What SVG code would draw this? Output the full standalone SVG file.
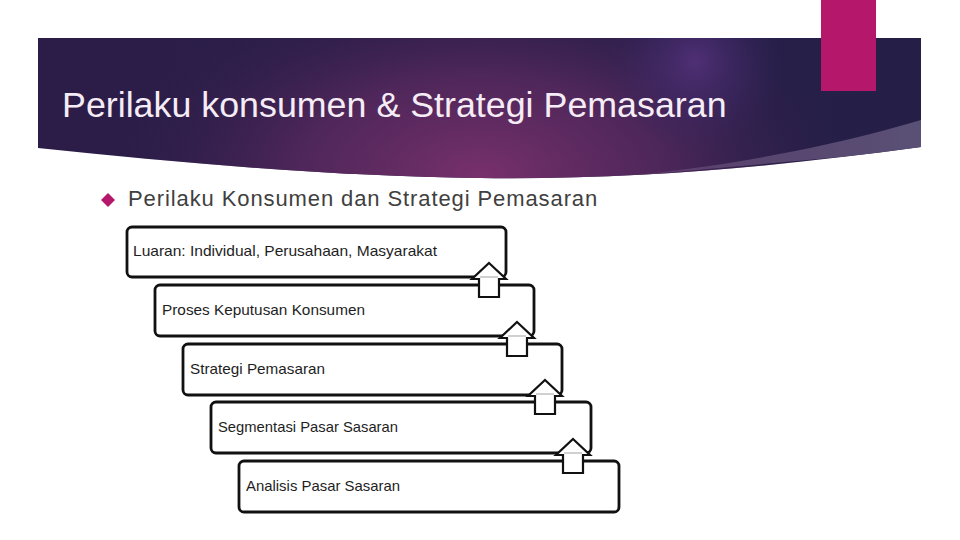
<svg xmlns="http://www.w3.org/2000/svg" width="960" height="540" viewBox="0 0 960 540">
<defs>
<linearGradient id="base" x1="0" y1="0" x2="1" y2="0">
<stop offset="0" stop-color="#2c1d48"/>
<stop offset="1" stop-color="#251f48"/>
</linearGradient>
<radialGradient id="glow1" cx="480" cy="175" r="360" gradientUnits="userSpaceOnUse" gradientTransform="translate(480 175) scale(1 0.55) translate(-480 -175)">
<stop offset="0" stop-color="#78306c" stop-opacity="1"/>
<stop offset="0.5" stop-color="#5c2a60" stop-opacity="0.75"/>
<stop offset="1" stop-color="#3a2050" stop-opacity="0"/>
</radialGradient>
<radialGradient id="glow2" cx="695" cy="62" r="90" gradientUnits="userSpaceOnUse">
<stop offset="0" stop-color="#4f2f75" stop-opacity="1"/>
<stop offset="1" stop-color="#3a2660" stop-opacity="0"/>
</radialGradient>
<linearGradient id="band" x1="921" y1="0" x2="560" y2="0" gradientUnits="userSpaceOnUse">
<stop offset="0" stop-color="#5a5075"/>
<stop offset="1" stop-color="#6a4a78" stop-opacity="0.6"/>
</linearGradient>
<clipPath id="bannerClip">
<path d="M38,38 H921 V147 C 780,166 640,180 480,178 C 330,176 180,163 38,148 Z"/>
</clipPath>
<style>
.box{fill:#ffffff;stroke:#111111;stroke-width:2.8}
.lbl{font-family:"Liberation Sans",Arial,sans-serif;font-size:15px;fill:#1e1e1e}
.arr{fill:#ffffff;stroke:#111111;stroke-width:2.2;stroke-linejoin:miter}
.arrline{stroke:#d0d0d0;stroke-width:2}
</style>
</defs>
<rect width="960" height="540" fill="#ffffff"/>
<g id="banner">
<g clip-path="url(#bannerClip)">
<rect x="38" y="38" width="883" height="145" fill="url(#base)"/>
<rect x="38" y="38" width="883" height="145" fill="url(#glow1)"/>
<rect x="38" y="38" width="883" height="145" fill="url(#glow2)"/>
<path d="M921,120 V150 L 560,182 C 700,172 820,150 921,120 Z" fill="url(#band)"/>
</g>
<rect x="821" y="0" width="55" height="91" fill="#b5176a"/>
<text x="62" y="117" font-family="'Liberation Sans',Arial,sans-serif" font-size="35.8" fill="#f6ecf6">Perilaku konsumen &amp; Strategi Pemasaran</text>
</g>
<g id="bullet">
<polygon points="108,193 115,200 108,207 101,200" fill="#b5176a"/>
<text x="128" y="206" font-family="'Liberation Sans',Arial,sans-serif" font-size="22" letter-spacing="0.9" fill="#404040">Perilaku Konsumen dan Strategi Pemasaran</text>
</g>
<g id="node1">
<rect class="box" x="127" y="227" width="379" height="50" rx="5"/>
<text class="lbl" x="133" y="256" textLength="304" lengthAdjust="spacingAndGlyphs">Luaran: Individual, Perusahaan, Masyarakat</text>
</g>
<g id="node2">
<rect class="box" x="155" y="285" width="379" height="51" rx="5"/>
<text class="lbl" x="162" y="315" textLength="203" lengthAdjust="spacingAndGlyphs">Proses Keputusan Konsumen</text>
</g>
<g id="node3">
<rect class="box" x="183" y="344" width="379" height="51" rx="5"/>
<text class="lbl" x="190" y="374" textLength="135" lengthAdjust="spacingAndGlyphs">Strategi Pemasaran</text>
</g>
<g id="node4">
<rect class="box" x="211" y="402" width="380" height="51" rx="5"/>
<text class="lbl" x="218" y="432" textLength="180" lengthAdjust="spacingAndGlyphs">Segmentasi Pasar Sasaran</text>
</g>
<g id="node5">
<rect class="box" x="239" y="461" width="380" height="51" rx="5"/>
<text class="lbl" x="246" y="491" textLength="154" lengthAdjust="spacingAndGlyphs">Analisis Pasar Sasaran</text>
</g>
<g id="connectors">
<g transform="translate(489 263)">
<path class="arr" d="M0,0 L17,16 H10 V34 H-10 V16 H-17 Z"/>
<line class="arrline" x1="-9" y1="14" x2="9" y2="14"/>
</g>
<g transform="translate(517 322)">
<path class="arr" d="M0,0 L17,16 H10 V34 H-10 V16 H-17 Z"/>
<line class="arrline" x1="-9" y1="14" x2="9" y2="14"/>
</g>
<g transform="translate(545 380)">
<path class="arr" d="M0,0 L17,16 H10 V34 H-10 V16 H-17 Z"/>
<line class="arrline" x1="-9" y1="14" x2="9" y2="14"/>
</g>
<g transform="translate(573 439)">
<path class="arr" d="M0,0 L17,16 H10 V34 H-10 V16 H-17 Z"/>
<line class="arrline" x1="-9" y1="14" x2="9" y2="14"/>
</g>
</g>
</svg>
